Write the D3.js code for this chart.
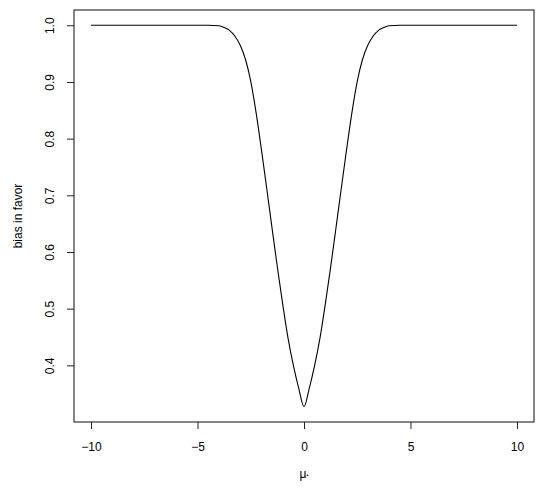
<!DOCTYPE html>
<html><head><meta charset="utf-8">
<script src="https://cdn.jsdelivr.net/npm/d3@7"></script>
<style>body{margin:0;background:#fff}svg{display:block}text{font-family:"Liberation Sans",Arial,sans-serif;fill:#000}</style>
</head><body>
<script>
// half-curve readings (x >= 0), mirrored for x < 0
const xHalf = [0, 0.25, 0.5, 0.75, 1.0, 1.25, 1.5, 1.75, 2.0, 2.25, 2.5, 2.75, 3.0, 3.25, 3.5, 3.75, 4.0, 4.5, 5, 6, 7, 8, 9, 10];
const yHalf = [0.327, 0.36, 0.40, 0.448, 0.508, 0.573, 0.642, 0.712, 0.781, 0.846, 0.901, 0.94, 0.965, 0.981, 0.991, 0.996, 0.999, 1.0, 1.0, 1.0, 1.0, 1.0, 1.0, 1.0];
const xTicks = [-10, -5, 0, 5, 10];
const yTicks = [0.4, 0.5, 0.6, 0.7, 0.8, 0.9, 1.0];

const pts = [];
for (let i = xHalf.length - 1; i > 0; i--) pts.push([-xHalf[i], yHalf[i]]);
for (let i = 0; i < xHalf.length; i++) pts.push([xHalf[i], yHalf[i]]);

const W = 550, H = 490;
const L = 74, R = 534, T = 10, B = 422;
const svg = d3.select("body").append("svg").attr("width", W).attr("height", H);

const xmin = -10, xmax = 10, ymin = 0.327, ymax = 1.0;
const dx = (xmax - xmin) * 0.04, dy = (ymax - ymin) * 0.04;
const x = d3.scaleLinear().domain([xmin - dx, xmax + dx]).range([L, R]);
const y = d3.scaleLinear().domain([ymin - dy, ymax + dy]).range([B, T]);

svg.append("path").datum(pts)
  .attr("fill", "none").attr("stroke", "#000").attr("stroke-width", 1.1)
  .attr("d", d3.line().x(d => x(d[0])).y(d => y(d[1])).curve(d3.curveMonotoneX));

svg.append("rect").attr("x", L).attr("y", T).attr("width", R - L).attr("height", B - T)
  .attr("fill", "none").attr("stroke", "#222").attr("stroke-width", 1.1);

const xAxis = d3.axisBottom(x).tickValues(xTicks).tickSize(7).tickPadding(13)
  .tickFormat(d => d < 0 ? "\u2212" + Math.abs(d) : String(d));
const gx = svg.append("g").attr("transform", `translate(0,${B})`).call(xAxis);
gx.select(".domain").remove();
gx.selectAll("line").attr("stroke", "#222");
gx.selectAll("text").attr("font-size", 12).attr("font-family", "Liberation Sans, Arial, sans-serif").attr("fill", "#000");

const yAxis = d3.axisLeft(y).tickValues(yTicks).tickSize(7).tickPadding(8)
  .tickFormat(d3.format(".1f"));
const gy = svg.append("g").attr("transform", `translate(${L},0)`).call(yAxis);
gy.select(".domain").remove();
gy.selectAll("line").attr("stroke", "#222");
gy.selectAll("text").attr("font-size", 12).attr("font-family", "Liberation Sans, Arial, sans-serif").attr("fill", "#000")
  .attr("text-anchor", "middle").attr("x", null)
  .attr("transform", `translate(-24,0) rotate(-90)`).attr("y", 0).attr("dy", "0.35em");

svg.append("text").attr("transform", `translate(22,${(T + B) / 2}) rotate(-90)`)
  .attr("text-anchor", "middle").attr("font-size", 12).attr("fill", "#000").text("bias in favor");

const xl = svg.append("text").attr("x", x(0)).attr("y", 478).attr("text-anchor", "middle").attr("font-size", 12).attr("fill", "#000");
xl.append("tspan").text("\u03bc");
xl.append("tspan").attr("font-size", 6).attr("dy", -1).text("\u2022");
</script>
</body></html>
